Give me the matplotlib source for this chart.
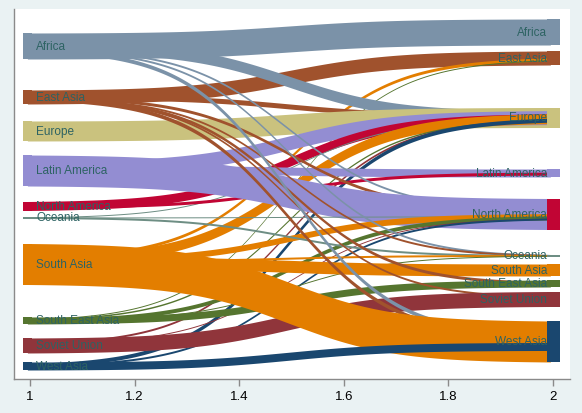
import numpy as np
import matplotlib.pyplot as plt
from matplotlib.patches import Rectangle

plt.rcParams['font.family'] = ['Liberation Sans', 'DejaVu Sans']

# regions (same list on both sides)
regions = ["Africa", "East Asia", "Europe", "Latin America", "North America",
           "Oceania", "South Asia", "South East Asia", "Soviet Union", "West Asia"]
region_colors = ["#7b92a8", "#a0522d", "#cac27e", "#938dd2", "#c10534",
                 "#6e8e84", "#e37e00", "#55752f", "#90353b", "#1a476f"]

# vertical level of each region at origin (x=1) and destination (x=2)
origin_level = [333, 282, 248, 208.5, 173, 161.5, 115, 58.5, 33.5, 13]
dest_level = [347, 321, 261.5, 206, 165, 123.5, 109, 95.5, 80, 37.5]

# flows: origin index, destination index, size
flow_from = [0, 0, 0, 0, 0,
             1, 1, 1, 1, 1, 1, 1,
             2,
             3, 3, 3,
             4, 4,
             5, 5, 5,
             6, 6, 6, 6, 6, 6,
             7, 7, 7, 7, 7,
             8, 8, 8,
             9, 9, 9]
flow_to = [0, 2, 4, 5, 9,
           1, 2, 4, 5, 7, 8, 9,
           2,
           2, 3, 4,
           2, 3,
           2, 4, 5,
           1, 2, 4, 5, 6, 9,
           1, 2, 4, 5, 7,
           2, 4, 8,
           2, 4, 9]
flow_size = [26, 11, 2, 2, 4,
             14, 5, 3, 2, 3, 2, 4,
             20,
             14, 8, 31,
             9, 3,
             1, 1, 2,
             3, 10, 6, 2, 12, 41,
             1, 1.5, 4, 1, 7,
             2, 1, 15,
             4, 2, 8]

n = len(regions)
flow_from = np.array(flow_from)
flow_to = np.array(flow_to)
flow_size = np.array(flow_size, dtype=float)
nf = len(flow_size)


def end_centres(node_idx, other_idx, levels, spread=0.35):
    # place each flow end inside its node, ordered by the region at the other end
    centres = np.zeros(nf)
    heights = np.zeros(n)
    for k in range(n):
        sel = np.where(node_idx == k)[0]
        if len(sel) == 0:
            continue
        sel = sel[np.argsort(other_idx[sel])]
        w = flow_size[sel]
        H = w.max()
        heights[k] = H
        cum = np.cumsum(w) - w / 2
        f = cum / w.sum()
        centres[sel] = levels[k] + (0.5 - f) * (H - w) * spread
    return centres, heights


y_start, h_left = end_centres(flow_from, flow_to, origin_level)
y_end, h_right = end_centres(flow_to, flow_from, dest_level)

# flows run between the node boxes (ends tucked under the boxes)
x0, x1 = 0.995, 1.995
xs = np.linspace(x0, x1, 300)
k = 10.0
t = (xs - x0) / (x1 - x0)
s = 1 / (1 + np.exp(-k * (t - 0.5)))
s = (s - s[0]) / (s[-1] - s[0])

fig = plt.figure(figsize=(5.82, 4.14), dpi=100, facecolor="#eaf2f3")
ax = fig.add_axes([14 / 582, 34 / 414, 556 / 582, 370 / 414])
ax.set_facecolor("white")

# draw flows: by destination, then origin
order = sorted(range(nf), key=lambda i: (flow_to[i], flow_from[i]))
for z, i in enumerate(order):
    yc = y_start[i] + (y_end[i] - y_start[i]) * s
    half = flow_size[i] / 2
    ax.fill_between(xs, yc - half, yc + half, color=region_colors[flow_from[i]],
                    linewidth=0, zorder=2 + z * 0.01)

# node boxes on both sides
for j in range(n):
    if h_left[j] > 0:
        ax.add_patch(Rectangle((0.987, origin_level[j] - h_left[j] / 2), 0.016, h_left[j],
                               color=region_colors[j], linewidth=0, zorder=3))
    if h_right[j] > 0:
        ax.add_patch(Rectangle((1.989, dest_level[j] - h_right[j] / 2), 0.024, h_right[j],
                               color=region_colors[j], linewidth=0, zorder=3))

label_color = "#2d6363"
for j in range(n):
    ax.text(1.0115, origin_level[j], regions[j], ha="left", va="center",
            fontsize=8.5, color=label_color, zorder=5)
    ax.text(1.989, dest_level[j], regions[j], ha="right", va="center",
            fontsize=8.5, color=label_color, zorder=5)

ax.set_xlim(0.9694, 2.0325)
ax.set_ylim(0, 370)
ax.set_xticks([1, 1.2, 1.4, 1.6, 1.8, 2])
ax.set_xticklabels(["1", "1.2", "1.4", "1.6", "1.8", "2"])
ax.set_yticks([])
ax.tick_params(axis="x", length=5, width=1, color="#8a8a8a", labelsize=9.5, pad=3)
for side in ["top", "right"]:
    ax.spines[side].set_visible(False)
for side in ["left", "bottom"]:
    ax.spines[side].set_color("#8a8a8a")
    ax.spines[side].set_linewidth(1)

fig.savefig("out.png", dpi=100, facecolor=fig.get_facecolor())
